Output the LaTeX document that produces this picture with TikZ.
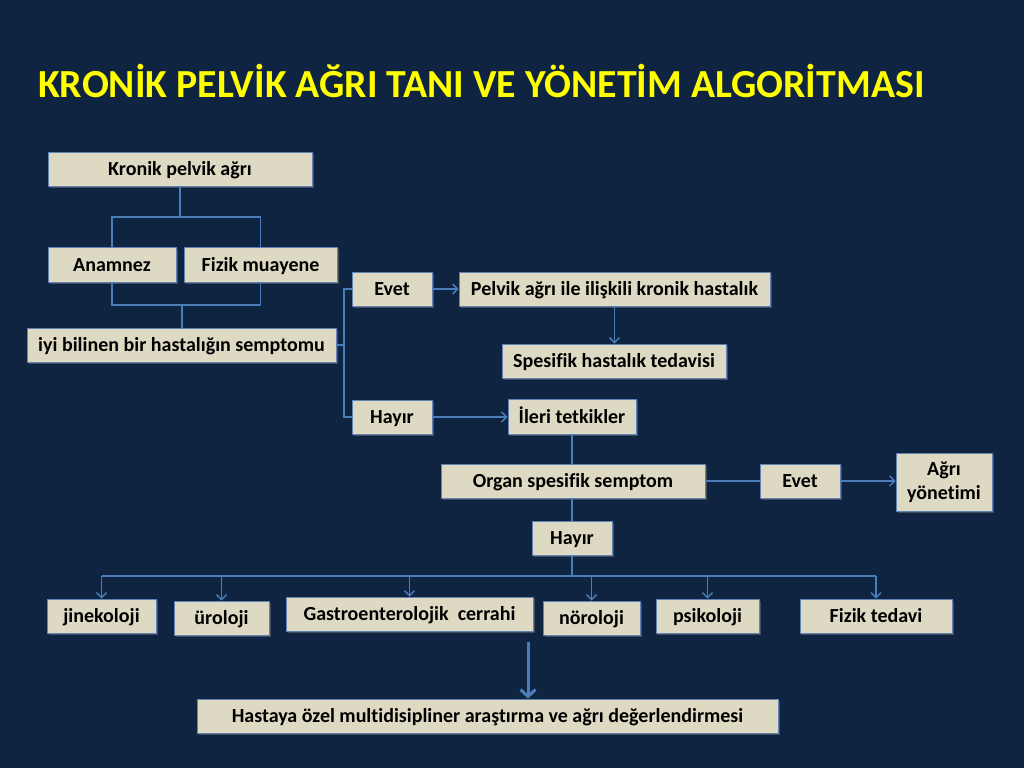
\documentclass[tikz,border=0pt]{standalone}
\usepackage{fontspec}
\setmainfont[Ligatures=NoCommon]{Carlito}
\usetikzlibrary{arrows.meta,shadows}
\definecolor{bg}{RGB}{15,36,64}
\definecolor{boxfill}{RGB}{221,217,195}
\definecolor{boxline}{RGB}{96,130,180}
\definecolor{conn}{RGB}{74,126,187}
\definecolor{titley}{RGB}{255,255,0}
\begin{document}
\begin{tikzpicture}[x=1pt,y=-1pt,
  box/.style={draw=boxline, line width=0.9pt, fill=boxfill, inner sep=0pt,
    font=\bfseries\fontsize{20}{24}\selectfont, text=black, align=center,
    text height=16pt, text depth=3pt,
    drop shadow={opacity=0.45, shadow xshift=1.5pt, shadow yshift=-1.5pt}},
  conline/.style={draw=conn, line width=1.3pt},
  arr/.style={conline, -{Straight Barb[length=5pt,width=10pt]}},
  bigarr/.style={draw=conn, line width=3pt, -{Straight Barb[length=7pt,width=15pt]}}
]
\fill[bg] (0,0) rectangle (1024,768);
\useasboundingbox (0,0) rectangle (1024,768);

\node[anchor=base west, text=titley, font=\bfseries\fontsize{39.8}{44}\selectfont, inner sep=0pt] (title) at (38,97) {KRONİK PELVİK AĞRI TANI VE YÖNETİM ALGORİTMASI};

\node[box, minimum width=264pt, minimum height=34pt] (kpa) at (180,169) {Kronik pelvik ağrı};
\node[box, minimum width=128pt, minimum height=35pt] (anam) at (112,264.5) {Anamnez};
\node[box, minimum width=153pt, minimum height=35pt] (fizik) at (260.5,264.5) {Fizik muayene};
\node[box, minimum width=309pt, minimum height=34pt] (iyi) at (181.5,345) {iyi bilinen bir hastalığın semptomu};
\node[box, minimum width=80pt, minimum height=34pt] (evet1) at (392,289) {Evet};
\node[box, minimum width=80pt, minimum height=34pt] (hayir1) at (392,417) {Hayır};
\node[box, minimum width=311pt, minimum height=34pt] (pelvik) at (614.5,289) {Pelvik ağrı ile ilişkili kronik hastalık};
\node[box, minimum width=224pt, minimum height=34pt] (spes) at (614,361) {Spesifik hastalık tedavisi};
\node[box, minimum width=128pt, minimum height=35pt] (ileri) at (572,416.5) {İleri tetkikler};
\node[box, minimum width=264pt, minimum height=34pt] (organ) at (573,481) {Organ spesifik semptom};
\node[box, minimum width=80pt, minimum height=34pt] (evet2) at (800,481) {Evet};
\node[box, minimum width=96pt, minimum height=58pt, text height=, text depth=] (agri) at (944,482) {Ağrı\\yönetimi};
\node[box, minimum width=80pt, minimum height=34pt] (hayir2) at (572,538) {Hayır};
\node[box, minimum width=109pt, minimum height=34pt] (jine) at (101.5,616) {jinekoloji};
\node[box, minimum width=95pt, minimum height=34pt] (uro) at (221.5,618) {üroloji};
\node[box, minimum width=247pt, minimum height=34pt] (gastro) at (409.5,614) {Gastroenterolojik\ \ cerrahi};
\node[box, minimum width=97pt, minimum height=34pt] (noro) at (591.5,618) {nöroloji};
\node[box, minimum width=103pt, minimum height=34pt] (psiko) at (707.5,616) {psikoloji};
\node[box, minimum width=152pt, minimum height=34pt] (fizikt) at (876,616) {Fizik tedavi};
\node[box, minimum width=581pt, minimum height=34pt] (hasta) at (487.5,716) {Hastaya özel multidisipliner araştırma ve ağrı değerlendirmesi};

\coordinate (j1) at (180,217);
\coordinate (j2) at (182,305);
\coordinate (j3) at (344,345);
\coordinate (bus) at (572,576);
\coordinate (t0) at (528,642);

\draw[conline] (kpa.south) -- (j1);
\draw[conline] (anam.north) -- (anam.north |- j1) -- (fizik.north |- j1) -- (fizik.north);
\draw[conline] (anam.south) -- (anam.south |- j2) -- (fizik.south |- j2) -- (fizik.south);
\draw[conline] (j2) -- (j2 |- iyi.north);
\draw[conline] (iyi.east) -- (j3);
\draw[conline] (evet1.west) -- (evet1.west -| j3) -- (hayir1.west -| j3) -- (hayir1.west);
\draw[arr] (evet1.east) -- (pelvik.west);
\draw[arr] (pelvik.south) -- (pelvik.south |- spes.north);
\draw[arr] (hayir1.east) -- (hayir1.east -| ileri.west);
\draw[conline] (ileri.south) -- (ileri.south |- organ.north);
\draw[conline] (organ.east) -- (evet2.west);
\draw[arr] (evet2.east) -- (evet2.east -| agri.west);
\draw[conline] (hayir2.north |- organ.south) -- (hayir2.north);
\draw[conline] (hayir2.south) -- (bus);
\draw[conline] (jine.north |- bus) -- (fizikt.north |- bus);
\foreach \n in {jine,uro,gastro,noro,psiko,fizikt}
  \draw[arr] (\n.north |- bus) -- (\n.north);
\draw[bigarr] (t0) -- (t0 |- hasta.north);
\end{tikzpicture}
\end{document}
